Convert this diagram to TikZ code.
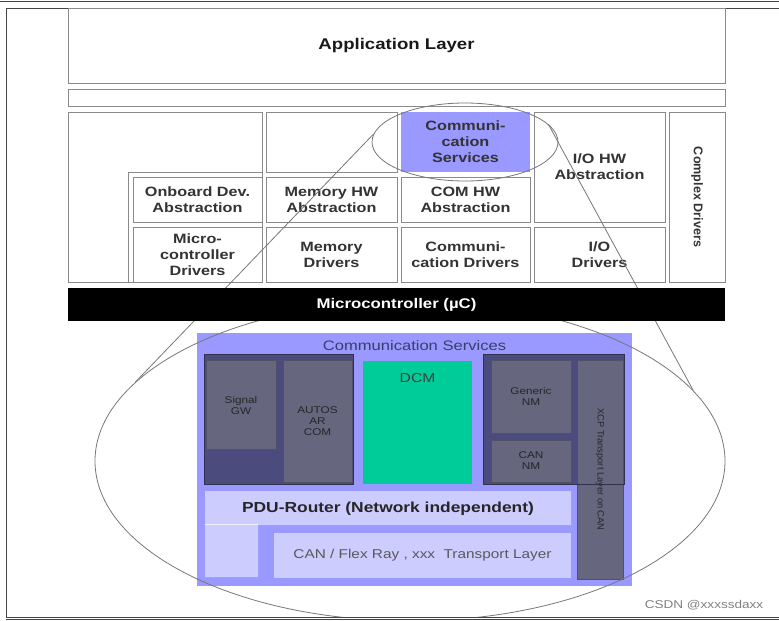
\documentclass[tikz,border=0pt]{standalone}
\usepackage{fontspec}
\setmainfont{Liberation Sans}[FakeStretch=1.2]
\newfontfamily\plainsans{Liberation Sans}
\usetikzlibrary{shapes.geometric}
\definecolor{boxline}{HTML}{8A8A8A}
\definecolor{labeltext}{HTML}{333333}
\definecolor{commblue}{HTML}{9999FF}
\definecolor{lightlav}{HTML}{CCCCFF}
\definecolor{darkgrp}{HTML}{4B4B7D}
\definecolor{darkgrpline}{HTML}{30304F}
\definecolor{grayfill}{HTML}{66667F}
\definecolor{grayline}{HTML}{505066}
\definecolor{dcmgreen}{HTML}{00CC99}
\definecolor{titletext}{HTML}{3C3C6C}
\definecolor{ellc}{HTML}{777777}
\definecolor{framec}{HTML}{444444}
\begin{document}
\begin{tikzpicture}[x=1pt,y=-1pt,
  ubox/.style={draw=boxline, line width=1pt, fill=white, inner sep=0pt, align=center,
    text=labeltext, font=\bfseries\fontsize{13.5}{16}\selectfont},
  grpbox/.style={draw=darkgrpline, line width=1pt, fill=darkgrp, inner sep=0pt},
  graybox/.style={draw=grayline, line width=0.8pt, fill=grayfill, inner sep=0pt, align=center,
    text=black!85, font=\fontsize{9.8}{11}\selectfont},
  lavbox/.style={fill=lightlav, inner sep=0pt, align=center},
  zoomline/.style={draw=ellc, line width=0.8pt},
]
\useasboundingbox (0,0) rectangle (779,621);
% frame
\draw[framec, line width=1.4pt] (0,1.5) -- (779,1.5);
\draw[framec, line width=0.9pt] (790,8) -- (6,8) -- (6,617) -- (790,617);
\draw[framec, line width=0.6pt] (6,619.5) -- (790,619.5);

% upper layers
\node[ubox, minimum width=657pt, minimum height=75pt, text=black!90,
  font=\bfseries\fontsize{15.5}{18}\selectfont] (app) at (396.5,45.5) {Application Layer};
\node[ubox, minimum width=657pt, minimum height=17pt] (rte) at (396.5,97.5) {};
\node[ubox, minimum width=194pt, minimum height=170pt] (col1) at (165,197) {};
\node[ubox, minimum width=134pt, minimum height=110pt] (col1step) at (195,227) {};
\node[ubox, minimum width=129pt, minimum height=45pt] (onb) at (197.5,199.5) {Onboard Dev.\\Abstraction};
\node[ubox, minimum width=129pt, minimum height=55pt] (mcd) at (197.5,254.5) {Micro-\\controller\\Drivers};
\node[ubox, minimum width=131pt, minimum height=60pt] (memtop) at (331.5,142) {};
\node[ubox, minimum width=131pt, minimum height=45pt] (memhw) at (331.5,199.5) {Memory HW\\Abstraction};
\node[ubox, minimum width=131pt, minimum height=55pt] (memdrv) at (331.5,254.5) {Memory\\Drivers};
\node[ubox, draw=none, fill=commblue, minimum width=129pt, minimum height=60pt] (comsrv) at (465.5,142) {Communi-\\cation\\Services};
\node[ubox, minimum width=129pt, minimum height=45pt] (comhw) at (465.5,199.5) {COM HW\\Abstraction};
\node[ubox, minimum width=129pt, minimum height=55pt] (comdrv) at (465.5,254.5) {Communi-\\cation Drivers};
\node[ubox, minimum width=131pt, minimum height=110pt] (iohw) at (599.5,167) {I/O HW\\Abstraction};
\node[ubox, minimum width=131pt, minimum height=55pt] (iodrv) at (599.5,254.5) {I/O\\Drivers};
\node[ubox, rotate=-90, minimum width=170pt, minimum height=56pt,
  font=\plainsans\bfseries\fontsize{12.6}{14}\selectfont] (cdrv) at (697,197) {Complex Drivers};

% lower communication services
\node[fill=commblue, inner sep=0pt, minimum width=435pt, minimum height=253pt] (cs) at (414.5,459.5) {};
\node[text=titletext, font=\fontsize{13.8}{16}\selectfont] (cstitle) at (414.5,346) {Communication Services};
\node[grpbox, minimum width=149pt, minimum height=130pt] (lgrp) at (278.5,419) {};
\node[graybox, minimum width=70pt, minimum height=89pt] (sgw) at (241,405) {Signal\\GW};
\node[graybox, minimum width=69pt, minimum height=122pt] (acom) at (317.5,421) {AUTOS\\AR\\COM};
\node[fill=dcmgreen, inner sep=0pt, minimum width=109pt, minimum height=123pt] (dcm) at (417.5,422.5) {};
\node[text=black!75, font=\fontsize{13}{15}\selectfont] (dcmt) at (417.5,378) {DCM};
\node[grpbox, minimum width=141pt, minimum height=130pt] (rgrp) at (553.5,419) {};
\node[graybox, minimum width=80pt, minimum height=73pt] (gnm) at (531,396.5) {Generic\\NM};
\node[graybox, minimum width=80pt, minimum height=42pt] (cnm) at (531,461) {CAN\\NM};
\node[graybox, rotate=-90, minimum width=219pt, minimum height=46pt,
  font=\plainsans\fontsize{9.3}{11}\selectfont] (xcp) at (600,469.5) {XCP Transport Layer on CAN};
\draw[darkgrpline, line width=1pt] (483,354) rectangle (624,484);
\fill[lightlav] (205,491) -- (571,491) -- (571,525) -- (258,525) -- (258,577) -- (205,577) -- cycle;
\draw[white!70!lightlav, line width=0.6pt] (205,524) -- (258,524);
\node[text=black!85, font=\bfseries\fontsize{14.5}{17}\selectfont] (pdu) at (388,508.5) {PDU-Router (Network independent)};
\node[lavbox, minimum width=297pt, minimum height=45pt, text=black!65,
  font=\fontsize{12.8}{15}\selectfont] (can) at (422.5,555.5) {CAN / Flex Ray , xxx\ \ Transport Layer};

% zoom ellipses and lines
\begin{scope}
\clip (0,0) rectangle (779,616.5);
\node[zoomline, ellipse, minimum width=630pt, minimum height=320pt, inner sep=0pt] (big) at (410,461) {};
\end{scope}
\node[zoomline, ellipse, minimum width=186pt, minimum height=78pt, inner sep=0pt] (small) at (465,142) {};
\draw[zoomline] (small.175) -- (big.164);
\draw[zoomline] (small.12) -- (big.14);

% microcontroller bar
\node[fill=black, inner sep=0pt, minimum width=657pt, minimum height=33pt, text=white,
  font=\bfseries\fontsize{14}{16}\selectfont] (mcu) at (396.5,304.5) {Microcontroller (µC)};

% watermark
\node[text=black!50, font=\fontsize{11.3}{13}\selectfont] (wm) at (704,605) {CSDN @xxxssdaxx};
\end{tikzpicture}
\end{document}
